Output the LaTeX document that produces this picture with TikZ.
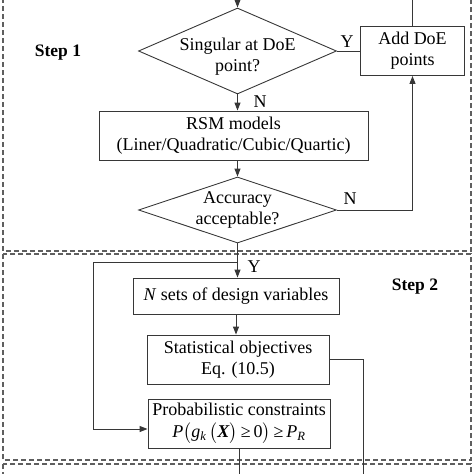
\documentclass[tikz,border=0pt]{standalone}
\usepackage{amsmath}
\usepackage{fontspec}
\setmainfont{Liberation Serif}
\usetikzlibrary{shapes.geometric,arrows.meta}
\tikzset{
    %Define standard arrow tip
    >={Triangle[length=8pt,width=6pt]},
    box/.style={draw=flow,line width=0.9pt,minimum width=#1,minimum height=49pt,inner sep=0pt,align=center},
    dec/.style={diamond,draw=flow,line width=0.9pt,inner sep=-4pt,align=center,minimum width=198pt},
    region/.style={draw=frame,line width=1.3pt,dash pattern=on 5pt off 3pt},
    flowline/.style={draw=flow,line width=0.9pt},
    steplabel/.style={font=\fontsize{17.5}{21}\selectfont\bfseries}
}
\definecolor{flow}{RGB}{55,55,55}
\definecolor{frame}{RGB}{95,95,95}

\begin{document}
\begin{tikzpicture}[x=1pt,y=-1pt,font=\fontsize{18}{21}\selectfont]
    \useasboundingbox (0,0) rectangle (474,474);
    \clip (0,0) rectangle (474,474);
    % dashed step regions
    \draw[region] (3,-10) rectangle (471,251);
    \draw[region] (3,254) rectangle (471,460);
    \draw[region] (3,464) rectangle (471,490);
    \node[steplabel] (st1) at (58,53) {Step 1};
    \node[steplabel] (st2) at (415,287) {Step 2};
    % blocks
    \node[dec,aspect=2.3,minimum height=86pt] (sing) at (237.5,51) {\raisebox{-6pt}[\height][\depth]{\begin{tabular}{@{}c@{}}Singular at DoE\\point?\end{tabular}}};
    \node[box=104pt] (add) at (412.5,51) {Add DoE\\points};
    \node[box=269pt] (rsm) at (233.5,135.5) {RSM models\\(Liner/Quadratic/Cubic/Quartic)};
    \node[dec,aspect=3,minimum height=66pt] (acc) at (237.5,210) {Accuracy\\acceptable?};
    \node[box=206pt,minimum height=36pt] (nset) at (236,296) {\textit{N} sets of design variables};
    \node[box=182pt] (stat) at (238,359.5) {Statistical objectives\\Eq. (10.5)};
    \node[box=182pt] (prob) at (239,423.5) {Probabilistic constraints\\[1pt]\textit{P}$\bigl($\textit{g}\textsubscript{\textit{k}}\,$\bigl($\textbf{\textit{X}}$\bigr)$\,≥\,0$\bigr)$\,≥\,\textit{P}\textsubscript{\textit{R}}};
    % free ends
    \coordinate (in) at (237.5,0);
    \coordinate (split) at (237.5,262);
    \coordinate (lpa) at (93,262);
    \coordinate (lpb) at (93,429);
    \coordinate (outa) at (363,474);
    % connectors
    \draw[flowline,->] (in) -- (sing.north);
    \draw[flowline] (sing.east) -- (add.west);
    \draw[flowline] (add.north) -- (add.north |- in);
    \draw[flowline,->] (sing.south) -- (sing.south |- rsm.north);
    \draw[flowline,->] (rsm.south -| sing.south) -- (acc.north);
    \draw[flowline,->] (acc.east) -| (add.south);
    \draw[flowline,->] (acc.south) -- (acc.south |- nset.north);
    \draw[flowline,->] (split) -- (lpa) -- (lpb) -- (lpb -| prob.west);
    \draw[flowline,->] (nset.south) -- (nset.south |- stat.north);
    \draw[flowline] (stat.east) -| (outa);
    \draw[flowline] (prob.south) -- (prob.south |- outa);
    % branch labels
    \node (y1) at (347,42) {Y};
    \node (n1) at (260,102) {N};
    \node (n2) at (350,199) {N};
    \node (y2) at (254,267) {Y};
\end{tikzpicture}
\end{document}
